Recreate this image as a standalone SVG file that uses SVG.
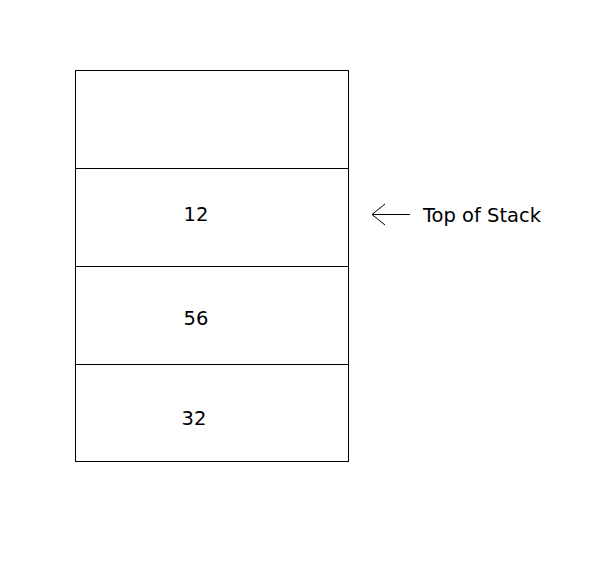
<svg xmlns="http://www.w3.org/2000/svg" width="596" height="579" viewBox="0 0 596 579">
<style>
.cell{fill:#fff;stroke:#000;stroke-width:1}
.t{font-family:"DejaVu Sans",sans-serif;font-size:19.5px;fill:#000}
.c{text-anchor:middle}
.conn{stroke:#000;stroke-width:1;fill:none}
</style>
<rect width="596" height="579" fill="#fff"/>
<g id="cell0"><rect class="cell" x="75.5" y="70.5" width="273" height="98"/></g>
<g id="cell1"><rect class="cell" x="75.5" y="168.5" width="273" height="98"/><text class="t c" x="196" y="221">12</text></g>
<g id="cell2"><rect class="cell" x="75.5" y="266.5" width="273" height="98"/><text class="t c" x="196" y="325">56</text></g>
<g id="cell3"><rect class="cell" x="75.5" y="364.5" width="273" height="97"/><text class="t c" x="194" y="425">32</text></g>
<g id="label"><text class="t" x="423" y="222">Top of Stack</text></g>
<g id="connectors">
<path class="conn" d="M410,214.5 H372 M385,204 L372,214.5 L385,225"/>
</g>
</svg>
